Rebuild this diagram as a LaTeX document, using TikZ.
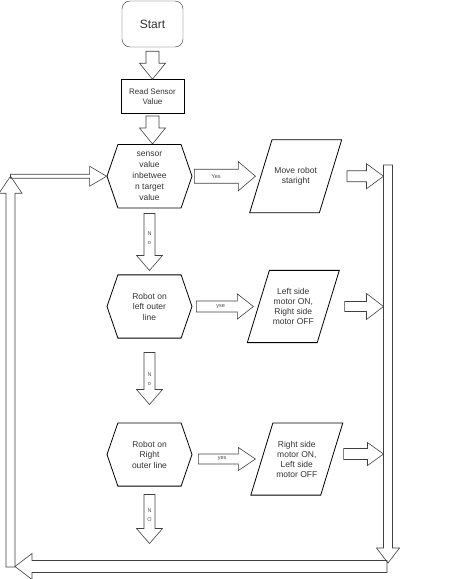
\documentclass[tikz,border=0pt]{standalone}
\usepackage{fontspec}
\setmainfont{Liberation Sans}
\usetikzlibrary{positioning,calc,shapes.geometric,shapes.symbols}

% hollow block arrow: shaft half width, head half width, head length
\tikzset{
  blk/.style n args={3}{draw=black!75, line width=0.6pt, line join=miter,
    to path={
      ($(\tikztostart)!#1!90:(\tikztotarget)$)
      -- ($(\tikztotarget)!#3!(\tikztostart)!#1!90:(\tikztotarget)$)
      -- ($(\tikztotarget)!#3!(\tikztostart)!#2!90:(\tikztotarget)$)
      -- (\tikztotarget)
      -- ($(\tikztotarget)!#3!(\tikztostart)!#2!-90:(\tikztotarget)$)
      -- ($(\tikztotarget)!#3!(\tikztostart)!#1!-90:(\tikztotarget)$)
      -- ($(\tikztostart)!#1!-90:(\tikztotarget)$)
      -- cycle}}
}

\begin{document}
\begin{tikzpicture}[x=1pt, y=-1pt,
  every node/.style={text=black!80},
  startbox/.style={draw=black!80, rounded corners=8pt, minimum width=61pt, minimum height=46pt, font=\fontsize{12}{14}\selectfont},
  procbox/.style={draw, line width=0.8pt, minimum width=63pt, minimum height=34pt, align=center, inner sep=1pt, font=\fontsize{8}{9.5}\selectfont},
  decision/.style={draw, line width=0.8pt, signal, signal to=east and west, signal pointer angle=142, minimum width=85pt, inner xsep=0pt, inner ysep=18pt, align=center, font=\fontsize{8.5}{10.5}\selectfont},
  io/.style={draw, line width=0.8pt, trapezium, trapezium left angle=73, trapezium right angle=107, trapezium stretches body, minimum width=92pt, inner xsep=0pt, inner ysep=18pt, align=center, font=\fontsize{8.5}{10}\selectfont},
  lbl/.style={align=center, inner sep=0pt, text=black!70, font=\fontsize{5.5}{9}\selectfont}
]
\useasboundingbox (0,0) rectangle (461,579);

\node[startbox] (start) at (152.5,24) {Start};
\node[procbox, below=32pt of start] (read) {Read Sensor\\Value};
\node[decision, below=30pt of read, xshift=-3pt, inner ysep=7.5pt, font=\fontsize{8.5}{11}\selectfont] (cond1) {sensor\\value\\inbetwee\\n target\\value};
\node[decision, below=66pt of cond1] (cond2) {Robot on\\left outer\\line};
\node[decision, below=84pt of cond2] (cond3) {Robot on\\Right\\outer line};
\node[io, right=68pt of cond1, inner ysep=27.5pt] (fwd) {Move robot\\staright};
\node[io, right=65.5pt of cond2] (turnr) {Left side\\motor ON,\\Right side\\motor OFF};
\node[io, right=69pt of cond3, yshift=-4.5pt] (turnl) {Right side\\motor ON,\\Left side\\motor OFF};

% loop back
\coordinate (rtop) at (388,165);
\coordinate (rbot) at (388,563);
\coordinate (bstart) at (387,566.5);
\coordinate (bend) at (15,566.5);
\coordinate (lbot) at (10.5,567);
\coordinate (ltop) at (cond1.west -| lbot);
\coordinate[below=57pt of cond3.south] (noend);

\draw[blk={6.5pt}{13pt}{16pt}] ([yshift=-4pt]start.south) to (read.north);
\draw[blk={6.5pt}{13pt}{16pt}] ([yshift=-2pt]read.south) to (read.south |- cond1.north);
\draw[blk={5.5pt}{13pt}{15pt}] ([yshift=-5pt]cond1.south) to ([yshift=4pt]cond2.north);
\draw[blk={5.5pt}{13pt}{15pt}] ([yshift=-14pt]cond2.south) to ([yshift=18pt]cond3.north);
\draw[blk={5.5pt}{13pt}{15pt}] ([yshift=-8pt]cond3.south) to (noend);

\draw[blk={7pt}{14.5pt}{17pt}] ([xshift=2pt]cond1.east) to ([xshift=-5pt]fwd.west);
\draw[blk={5.5pt}{12.5pt}{16pt}] ([xshift=4pt]cond2.east) to ([xshift=-4.5pt]turnr.west);
\draw[blk={5pt}{11.5pt}{17pt}] ([xshift=6pt]cond3.east |- turnl.west) to ([xshift=-6pt]turnl.west);

\draw[blk={5.5pt}{12.5pt}{17pt}] ([xshift=16pt]fwd.east) to ([xshift=-4.5pt]fwd.east -| rtop);
\draw[blk={5pt}{13pt}{17pt}] ([xshift=16pt]turnr.east) to ([xshift=-4.5pt]turnr.east -| rtop);
\draw[blk={5.5pt}{11.5pt}{16pt}] ([xshift=11.5pt,yshift=5pt]turnl.east) to ([xshift=-4.5pt,yshift=5pt]turnl.east -| rtop);

\draw[blk={4.5pt}{11.5pt}{15pt}] (rtop) to (rbot);
\draw[blk={6pt}{13pt}{17pt}] (bstart) to (bend);
\draw[blk={4.5pt}{11.5pt}{17pt}] (lbot) to (ltop);
\draw[blk={2pt}{10pt}{17pt}] (ltop) to (cond1.west);

\node[lbl] (yes1) at ($(cond1.east)!0.35!(fwd.west)$) {Yes};
\node[lbl] (yes2) at ($(cond2.east)!0.43!(turnr.west)$) {yse};
\node[lbl] (yes3) at ($(cond3.east |- turnl.west)!0.43!(turnl.west)$) {yes};
\node[lbl] (no1) at ($(cond1.south)!0.45!(cond2.north)$) {N\\o};
\node[lbl] (no2) at ($(cond2.south)!0.48!(cond3.north)$) {N\\o};
\node[lbl] (no3) at ($(cond3.south)!0.5!(noend)$) {N\\O};

\end{tikzpicture}
\end{document}
